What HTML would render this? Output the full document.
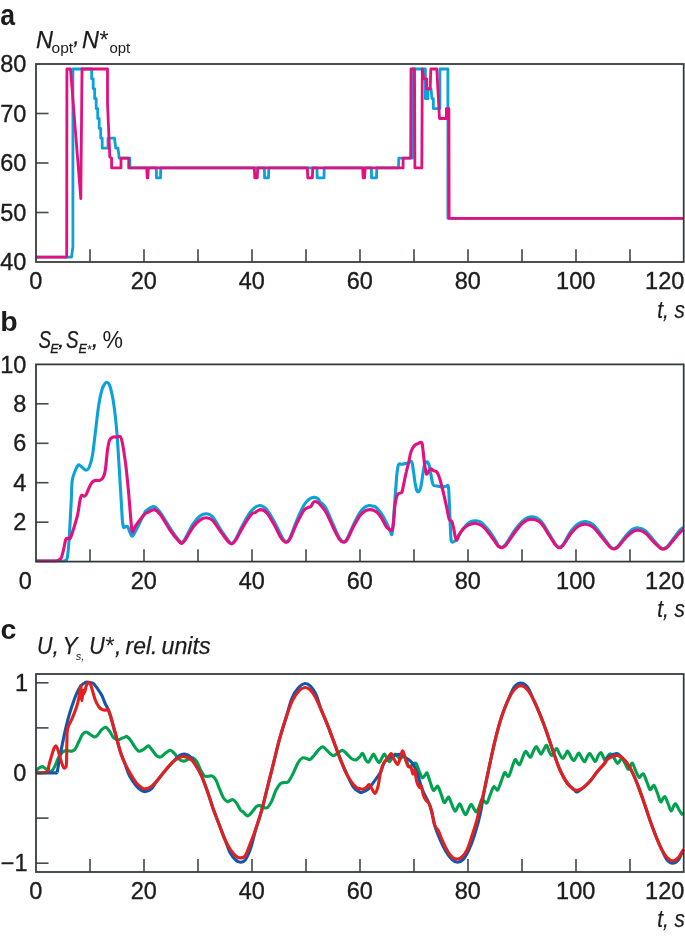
<!DOCTYPE html>
<html lang="en">
<head>
<meta charset="utf-8">
<title>Figure: optimisation results</title>
<style>
html, body { margin:0; padding:0; background:#ffffff; }
body { width:685px; height:938px; overflow:hidden; }
svg { display:block; font-family:"Liberation Sans", Arial, Helvetica, sans-serif; }
</style>
</head>
<body>
<svg width="685" height="938" viewBox="0 0 685 938">
<rect x="0" y="0" width="685" height="938" fill="#ffffff"/>
<path d="M36.0,257.1 L71.5,257.1 L72.9,247.0 L72.9,69.0 L91.7,69.0 L91.7,78.8 L93.2,78.8 L93.2,88.8 L94.7,88.8 L94.7,98.7 L96.2,98.7 L96.2,108.6 L97.7,108.6 L97.7,118.5 L99.2,118.5 L99.2,128.4 L100.7,128.4 L100.7,138.2 L102.2,138.2 L102.2,148.2 L103.7,148.2 L108.0,148.2 L108.0,138.2 L114.5,138.2 L115.7,148.2 L118.0,148.2 L119.2,158.1 L129.8,158.1 L129.8,167.9 L156.3,167.9 L156.5,177.9 L160.5,177.9 L160.8,167.9 L264.3,167.9 L264.6,177.9 L268.5,177.9 L268.8,167.9 L317.0,167.9 L317.2,177.9 L324.0,177.9 L324.2,167.9 L371.4,167.9 L371.6,177.9 L376.5,177.9 L376.8,167.9 L398.5,167.9 L398.8,158.1 L412.5,158.1 L413.0,69.0 L425.4,69.0 L425.4,98.7 L428.0,98.7 L428.0,88.8 L431.0,88.8 L432.0,98.7 L433.3,98.7 L433.3,108.6 L439.9,108.6 L439.9,69.0 L447.9,69.0 L447.9,218.3 L684.0,218.3" fill="none" stroke="#0ba2d9" stroke-width="2.8" stroke-linejoin="round" stroke-linecap="butt"/>
<path d="M36.0,257.1 L66.7,257.1 L66.9,69.0 L70.5,69.0 L80.8,198.6 L82.0,69.0 L107.5,69.0 L107.5,103.0 L109.8,157.0 L111.6,158.1 L111.6,167.9 L121.0,167.9 L121.0,158.1 L128.7,158.1 L128.7,167.9 L146.7,167.9 L147.2,177.9 L147.8,177.9 L148.3,167.9 L254.3,167.9 L254.8,177.9 L257.2,177.9 L257.7,167.9 L307.3,167.9 L307.8,177.9 L312.3,177.9 L312.8,167.9 L362.6,167.9 L363.2,177.9 L364.6,177.9 L365.2,167.9 L403.1,167.9 L403.1,158.1 L410.7,158.1 L411.0,69.0 L414.5,69.0 L414.9,167.9 L421.8,167.9 L422.3,69.0 L423.6,78.8 L426.7,78.8 L426.7,88.8 L430.2,88.8 L430.8,69.0 L436.8,69.0 L439.0,110.0 L439.5,118.5 L446.4,118.5 L446.4,108.6 L448.9,108.6 L449.1,218.3 L684.0,218.3" fill="none" stroke="#e3107f" stroke-width="2.8" stroke-linejoin="round" stroke-linecap="butt"/>
<line x1="90.0" y1="262.0" x2="90.0" y2="249.3" stroke="#474d50" stroke-width="1.65"/>
<line x1="144.0" y1="262.0" x2="144.0" y2="249.3" stroke="#474d50" stroke-width="1.65"/>
<line x1="198.0" y1="262.0" x2="198.0" y2="249.3" stroke="#474d50" stroke-width="1.65"/>
<line x1="252.0" y1="262.0" x2="252.0" y2="249.3" stroke="#474d50" stroke-width="1.65"/>
<line x1="306.0" y1="262.0" x2="306.0" y2="249.3" stroke="#474d50" stroke-width="1.65"/>
<line x1="360.0" y1="262.0" x2="360.0" y2="249.3" stroke="#474d50" stroke-width="1.65"/>
<line x1="414.0" y1="262.0" x2="414.0" y2="249.3" stroke="#474d50" stroke-width="1.65"/>
<line x1="468.0" y1="262.0" x2="468.0" y2="249.3" stroke="#474d50" stroke-width="1.65"/>
<line x1="522.0" y1="262.0" x2="522.0" y2="249.3" stroke="#474d50" stroke-width="1.65"/>
<line x1="576.0" y1="262.0" x2="576.0" y2="249.3" stroke="#474d50" stroke-width="1.65"/>
<line x1="630.0" y1="262.0" x2="630.0" y2="249.3" stroke="#474d50" stroke-width="1.65"/>
<line x1="36.0" y1="212.5" x2="48.5" y2="212.5" stroke="#474d50" stroke-width="1.65"/>
<line x1="36.0" y1="163.0" x2="48.5" y2="163.0" stroke="#474d50" stroke-width="1.65"/>
<line x1="36.0" y1="113.5" x2="48.5" y2="113.5" stroke="#474d50" stroke-width="1.65"/>
<rect x="36.0" y="64.0" width="647.7" height="198.0" fill="none" stroke="#32383a" stroke-width="1.75"/>
<text x="26.4" y="72.2" text-anchor="end" style="font-size:23.5px;" fill="#1c1c1c" stroke="#1c1c1c" stroke-width="0.35">80</text>
<text x="26.4" y="121.7" text-anchor="end" style="font-size:23.5px;" fill="#1c1c1c" stroke="#1c1c1c" stroke-width="0.35">70</text>
<text x="26.4" y="171.2" text-anchor="end" style="font-size:23.5px;" fill="#1c1c1c" stroke="#1c1c1c" stroke-width="0.35">60</text>
<text x="26.4" y="220.7" text-anchor="end" style="font-size:23.5px;" fill="#1c1c1c" stroke="#1c1c1c" stroke-width="0.35">50</text>
<text x="26.4" y="270.2" text-anchor="end" style="font-size:23.5px;" fill="#1c1c1c" stroke="#1c1c1c" stroke-width="0.35">40</text>
<text x="35.7" y="289.4" text-anchor="middle" style="font-size:23.5px;" fill="#1c1c1c" stroke="#1c1c1c" stroke-width="0.35">0</text>
<text x="143.7" y="289.4" text-anchor="middle" style="font-size:23.5px;" fill="#1c1c1c" stroke="#1c1c1c" stroke-width="0.35">20</text>
<text x="251.7" y="289.4" text-anchor="middle" style="font-size:23.5px;" fill="#1c1c1c" stroke="#1c1c1c" stroke-width="0.35">40</text>
<text x="359.7" y="289.4" text-anchor="middle" style="font-size:23.5px;" fill="#1c1c1c" stroke="#1c1c1c" stroke-width="0.35">60</text>
<text x="467.7" y="289.4" text-anchor="middle" style="font-size:23.5px;" fill="#1c1c1c" stroke="#1c1c1c" stroke-width="0.35">80</text>
<text x="575.7" y="289.4" text-anchor="middle" style="font-size:23.5px;" fill="#1c1c1c" stroke="#1c1c1c" stroke-width="0.35">100</text>
<text x="684.3" y="289.4" text-anchor="end" style="font-size:23.5px;" fill="#1c1c1c" stroke="#1c1c1c" stroke-width="0.35">120</text>
<text x="684.8" y="318.0" text-anchor="end" textLength="27.6" lengthAdjust="spacingAndGlyphs" style="font-size:23.5px;font-style:italic;" fill="#1c1c1c" stroke="#1c1c1c" stroke-width="0.25">t, s</text>
<text x="0.2" y="24.9" textLength="14.8" lengthAdjust="spacingAndGlyphs" style="font-size:29.5px;font-weight:bold;" fill="#1c1c1c">a</text>
<text x="36" y="47.8" style="font-size:23.5px;font-style:italic;" fill="#1c1c1c" stroke="#1c1c1c" stroke-width="0.25">N</text>
<text x="51.6" y="53" textLength="21.6" lengthAdjust="spacingAndGlyphs" style="font-size:15px;" fill="#1c1c1c">opt</text>
<text x="73.2" y="44" style="font-size:23.5px;font-style:italic;" fill="#1c1c1c" stroke="#1c1c1c" stroke-width="0.25">,</text>
<text x="82" y="47.8" style="font-size:23.5px;font-style:italic;" fill="#1c1c1c" stroke="#1c1c1c" stroke-width="0.25">N</text>
<text x="99.4" y="47.6" style="font-size:23.5px;" fill="#1c1c1c">*</text>
<text x="109.4" y="53" textLength="20.8" lengthAdjust="spacingAndGlyphs" style="font-size:15px;" fill="#1c1c1c">opt</text>
<clipPath id="cb"><rect x="36.0" y="364.4" width="647.7" height="197.80000000000004"/></clipPath>
<path d="M36.0,561.1 C40.3,561.1 57.2,561.2 62.0,561.1 C66.8,561.0 64.1,561.4 65.0,560.8 C65.9,560.2 66.7,560.9 67.3,557.6 C68.0,554.2 68.4,549.7 69.0,540.5 C69.7,531.3 70.6,512.1 71.2,502.1 C71.7,492.2 71.5,486.2 72.2,480.8 C72.9,475.5 74.4,472.8 75.4,470.2 C76.5,467.5 77.6,465.4 78.6,464.8 C79.7,464.3 80.6,466.1 81.8,467.0 C83.1,467.9 84.8,470.2 86.1,470.2 C87.3,470.2 88.2,469.5 89.3,467.0 C90.3,464.5 91.4,461.5 92.5,455.3 C93.5,449.0 94.6,438.2 95.7,429.7 C96.7,421.2 97.8,410.8 98.9,404.1 C99.9,397.4 101.0,392.7 102.1,389.2 C103.1,385.7 104.5,384.4 105.3,383.2 C106.0,382.1 106.0,382.1 106.8,382.4 C107.5,382.6 108.5,382.4 109.5,384.9 C110.5,387.5 111.8,393.1 112.7,397.7 C113.6,402.3 114.1,406.6 114.9,412.6 C115.6,418.7 116.3,425.1 117.0,433.9 C117.7,442.8 118.4,454.5 119.1,465.9 C119.8,477.3 120.6,492.2 121.3,502.1 C121.9,512.1 122.2,521.5 123.0,525.6 C123.7,529.7 124.7,526.5 125.5,526.6 C126.3,526.8 126.9,525.8 127.6,526.6 C128.4,527.5 129.0,530.4 129.8,532.0 C130.6,533.6 131.3,536.6 132.3,536.2 C133.4,535.9 134.8,532.3 136.2,529.8 C137.5,527.4 139.0,524.2 140.4,521.3 C141.9,518.5 143.7,514.6 144.7,512.8 C145.6,511.0 144.6,511.7 146.1,510.7 C147.7,509.6 151.5,506.2 153.9,506.6 C156.3,506.9 157.6,509.0 160.4,512.7 C163.2,516.4 167.6,524.5 170.7,529.0 C173.7,533.6 177.0,538.1 178.8,540.3 C180.7,542.5 180.8,542.7 181.9,542.3 C183.0,542.0 183.5,541.3 185.4,538.2 C187.2,535.2 190.7,527.7 193.1,523.9 C195.6,520.2 198.1,517.5 200.3,515.8 C202.5,514.1 204.4,513.6 206.4,513.7 C208.5,513.9 210.0,513.9 212.6,516.8 C215.1,519.7 219.0,527.0 221.7,531.1 C224.5,535.2 227.2,539.3 228.9,541.3 C230.6,543.4 230.8,543.7 232.0,543.4 C233.1,543.0 233.8,542.5 235.6,539.3 C237.5,536.0 240.6,528.7 243.2,523.9 C245.8,519.2 248.7,513.7 251.4,510.7 C254.1,507.6 257.0,505.7 259.6,505.5 C262.1,505.4 264.2,506.7 266.7,509.6 C269.3,512.5 272.7,519.0 274.9,522.9 C277.1,526.8 278.6,530.4 280.0,533.1 C281.4,535.9 282.2,537.8 283.3,539.3 C284.3,540.7 285.3,541.9 286.3,541.7 C287.4,541.6 288.1,541.7 289.8,538.2 C291.5,534.8 294.3,526.3 296.6,520.9 C298.9,515.4 301.7,509.1 303.7,505.5 C305.8,502.0 307.1,500.8 308.8,499.4 C310.5,498.1 312.4,497.5 313.9,497.4 C315.5,497.3 317.0,498.0 318.0,498.8 C319.0,499.6 319.4,501.3 320.1,502.1 C320.8,502.9 321.1,502.4 322.1,503.5 C323.1,504.6 324.3,505.0 326.2,508.6 C328.1,512.2 331.1,520.0 333.4,525.0 C335.6,529.9 337.8,535.5 339.5,538.2 C341.2,541.0 342.3,541.7 343.6,541.7 C344.9,541.7 345.6,541.2 347.3,538.2 C349.0,535.3 351.7,528.2 353.8,523.9 C355.9,519.7 358.1,515.5 359.9,512.7 C361.8,509.9 363.5,508.2 365.0,507.0 C366.6,505.8 367.8,505.7 369.1,505.5 C370.5,505.4 372.0,505.8 373.2,506.2 C374.4,506.5 374.9,506.3 376.3,507.6 C377.6,508.9 379.5,510.8 381.4,513.7 C383.3,516.6 386.0,521.9 387.5,525.0 C389.0,528.0 389.8,530.6 390.6,532.1 C391.3,533.7 391.5,535.5 391.9,534.2 C392.3,533.0 392.6,530.3 393.1,524.6 C393.6,518.9 394.3,508.0 394.9,500.1 C395.5,492.2 396.1,483.1 396.6,477.3 C397.2,471.5 397.5,467.2 398.4,465.0 C399.3,462.8 400.4,464.5 401.9,464.2 C403.4,463.9 405.5,463.7 407.2,463.3 C408.8,462.8 410.5,460.4 411.5,461.5 C412.6,462.7 412.7,466.8 413.3,470.3 C413.9,473.8 414.5,479.2 415.0,482.6 C415.6,485.9 416.2,488.9 416.8,490.4 C417.4,492.0 417.9,492.1 418.5,491.7 C419.2,491.2 419.9,490.8 420.6,487.8 C421.4,484.8 422.3,477.7 422.9,473.8 C423.6,469.9 424.0,466.1 424.7,464.2 C425.3,462.2 426.2,461.7 427.0,461.9 C427.7,462.0 428.4,463.1 429.1,465.0 C429.7,467.0 430.2,470.7 430.8,473.8 C431.4,476.9 432.0,481.4 432.6,483.4 C433.1,485.4 433.4,485.3 434.3,485.7 C435.2,486.1 436.5,485.9 437.8,486.1 C439.1,486.3 440.9,486.9 442.2,486.9 C443.5,487.0 444.7,486.5 445.7,486.4 C446.7,486.3 447.7,484.1 448.3,486.4 C448.9,488.7 448.9,494.3 449.2,500.1 C449.5,505.9 449.8,514.7 450.1,521.1 C450.4,527.5 450.6,535.1 451.0,538.6 C451.3,542.1 451.4,541.8 452.2,542.1 C452.9,542.5 454.5,541.2 455.3,540.7 C456.2,540.3 456.2,540.9 457.1,539.5 C458.0,538.1 459.1,534.8 460.6,532.5 C462.0,530.2 464.1,527.3 465.8,525.5 C467.6,523.6 469.5,522.2 471.1,521.5 C472.7,520.7 473.9,520.7 475.5,520.7 C477.1,520.8 478.8,520.7 480.7,522.0 C482.6,523.2 485.0,525.9 486.9,528.1 C488.8,530.3 490.5,532.8 492.1,535.1 C493.7,537.5 495.5,540.4 496.5,542.1 C497.5,543.8 497.2,544.6 498.1,545.5 C499.0,546.3 500.6,547.5 501.9,547.2 C503.2,547.0 504.0,546.7 506.0,544.0 C508.1,541.3 511.4,534.8 514.2,530.9 C517.0,527.0 520.0,523.0 523.0,520.7 C525.9,518.3 528.8,516.9 531.7,516.9 C534.6,516.9 537.6,517.8 540.5,520.7 C543.4,523.5 546.7,529.8 549.2,533.8 C551.8,537.8 554.2,542.7 555.9,544.9 C557.7,547.1 558.2,547.3 559.5,547.2 C560.7,547.1 561.3,547.0 563.2,544.3 C565.2,541.6 568.6,534.3 571.1,530.9 C573.7,527.4 576.0,525.1 578.4,523.6 C580.9,522.0 583.3,521.4 585.7,521.5 C588.2,521.7 590.4,522.2 593.0,524.5 C595.7,526.7 598.9,531.5 601.8,535.3 C604.7,539.0 608.5,544.7 610.5,546.9 C612.6,549.1 613.1,548.5 614.3,548.4 C615.6,548.2 616.3,548.0 618.1,546.1 C619.9,544.1 622.8,539.5 625.1,536.7 C627.5,533.9 630.2,530.9 632.4,529.4 C634.7,528.0 636.7,527.7 638.9,528.0 C641.1,528.2 643.0,528.7 645.6,530.9 C648.2,533.1 651.8,538.3 654.3,541.1 C656.9,543.9 659.2,546.6 660.8,547.8 C662.4,549.0 662.8,548.7 664.0,548.4 C665.1,548.1 666.0,548.0 667.8,546.1 C669.6,544.1 672.6,539.5 674.8,536.7 C676.9,533.9 678.9,531.1 680.6,529.4 C682.3,527.7 684.3,527.0 685.0,526.5" fill="none" stroke="#0ba2d9" stroke-width="3.1" stroke-linejoin="round" stroke-linecap="butt" clip-path="url(#cb)"/>
<path d="M36.0,561.1 C39.0,561.1 50.5,561.2 54.0,561.1 C57.5,561.0 56.0,561.0 57.0,560.7 C58.0,560.4 59.1,559.9 59.9,559.3 C60.6,558.7 60.9,558.8 61.6,557.1 C62.2,555.4 63.0,552.0 63.7,549.0 C64.4,546.1 65.1,541.2 65.8,539.4 C66.5,537.7 67.3,538.5 68.0,538.4 C68.7,538.2 69.2,539.8 70.1,538.4 C71.0,537.0 72.1,533.8 73.3,529.8 C74.5,525.9 76.3,520.4 77.6,514.9 C78.8,509.4 79.7,499.9 80.8,496.8 C81.8,493.7 83.1,496.5 84.0,496.2 C84.8,495.8 85.2,496.2 86.1,494.7 C87.0,493.2 88.2,489.4 89.3,487.2 C90.3,485.1 91.4,483.0 92.5,481.9 C93.5,480.8 94.4,480.6 95.7,480.4 C96.9,480.2 98.7,480.9 99.9,480.4 C101.2,479.9 102.2,479.3 103.1,477.6 C104.0,475.9 104.6,474.6 105.3,470.2 C106.0,465.7 106.7,456.0 107.4,451.0 C108.1,446.0 108.6,442.6 109.5,440.3 C110.4,438.0 111.5,437.7 112.7,437.1 C114.0,436.6 115.7,437.2 117.0,437.1 C118.2,437.0 119.3,435.6 120.2,436.5 C121.1,437.4 121.6,439.3 122.3,442.5 C123.0,445.6 123.7,450.3 124.4,455.3 C125.2,460.2 125.9,465.9 126.6,472.3 C127.3,478.7 128.0,485.8 128.7,493.6 C129.4,501.4 130.2,512.8 130.8,519.2 C131.4,525.6 131.6,530.7 132.3,532.0 C133.0,533.2 133.8,528.8 135.1,526.6 C136.5,524.5 138.8,521.3 140.4,519.2 C142.0,517.1 143.6,515.2 144.7,514.1 C145.8,513.0 145.6,513.4 147.2,512.7 C148.8,512.0 152.1,509.3 154.3,509.6 C156.5,510.0 157.7,511.2 160.4,514.7 C163.2,518.3 167.6,526.7 170.7,531.1 C173.7,535.5 177.0,539.3 178.8,541.3 C180.7,543.4 180.8,543.6 181.9,543.4 C183.0,543.1 183.5,542.4 185.4,539.7 C187.2,537.0 190.7,530.3 193.1,527.0 C195.6,523.7 198.1,521.4 200.3,519.9 C202.5,518.3 204.4,517.7 206.4,517.8 C208.5,517.9 210.0,517.9 212.6,520.5 C215.1,523.0 219.0,529.5 221.7,533.1 C224.5,536.8 227.2,540.6 228.9,542.3 C230.6,544.1 230.8,544.1 232.0,543.8 C233.1,543.4 233.8,543.2 235.6,540.3 C237.5,537.4 240.6,530.9 243.2,526.6 C245.8,522.3 249.3,516.7 251.4,514.3 C253.4,512.0 253.9,513.1 255.5,512.3 C257.0,511.5 258.7,509.6 260.6,509.6 C262.5,509.7 264.3,510.0 266.7,512.7 C269.1,515.4 272.7,522.1 274.9,526.0 C277.1,529.9 278.6,533.8 280.0,536.2 C281.4,538.7 282.2,539.7 283.3,540.7 C284.3,541.7 285.3,542.6 286.3,542.3 C287.4,542.1 288.1,542.3 289.8,539.3 C291.5,536.2 294.3,528.7 296.6,523.9 C298.9,519.2 301.8,513.4 303.7,510.7 C305.6,507.9 306.6,508.3 307.8,507.6 C309.0,506.9 310.0,507.4 310.9,506.6 C311.7,505.8 312.2,503.7 312.9,502.9 C313.6,502.0 313.9,501.4 315.0,501.5 C316.0,501.6 317.2,501.6 319.0,503.5 C320.9,505.4 323.8,508.6 326.2,512.7 C328.6,516.8 331.1,523.6 333.4,528.0 C335.6,532.5 337.8,536.9 339.5,539.3 C341.2,541.7 342.3,542.3 343.6,542.3 C344.9,542.3 345.6,542.0 347.3,539.3 C349.0,536.5 351.7,529.9 353.8,526.0 C355.9,522.1 358.1,518.3 359.9,515.8 C361.8,513.3 363.3,512.1 365.0,511.1 C366.7,510.0 368.3,509.5 370.1,509.6 C372.0,509.7 374.4,510.3 376.3,511.7 C378.1,513.0 379.7,515.3 381.4,517.8 C383.1,520.4 385.0,525.0 386.5,527.0 C388.0,529.0 389.6,529.7 390.6,530.1 C391.6,530.4 392.1,530.9 392.6,529.0 C393.2,527.2 393.4,522.9 393.9,518.8 C394.3,514.7 394.4,508.6 395.1,504.5 C395.7,500.4 396.6,496.3 397.7,494.3 C398.9,492.3 400.9,493.6 401.8,492.3 C402.7,490.9 402.5,489.5 403.3,486.1 C404.0,482.8 405.3,476.1 406.3,472.0 C407.2,467.9 408.2,464.7 408.9,461.5 C409.6,458.3 409.8,455.4 410.7,452.8 C411.5,450.1 413.0,447.3 414.2,445.8 C415.3,444.2 416.4,444.2 417.7,443.7 C418.9,443.1 420.8,441.7 421.7,442.6 C422.6,443.5 422.4,445.5 422.9,449.3 C423.4,453.0 424.1,461.0 424.7,465.0 C425.3,469.1 425.8,472.6 426.4,473.8 C427.0,475.0 427.4,472.9 428.2,472.0 C428.9,471.2 429.9,469.1 430.8,468.9 C431.7,468.7 432.4,470.1 433.4,470.6 C434.5,471.2 435.9,470.8 436.9,472.0 C438.0,473.3 438.5,475.0 439.6,478.2 C440.6,481.4 441.9,486.5 443.1,491.3 C444.2,496.1 445.6,502.4 446.6,507.1 C447.6,511.8 448.3,517.0 449.2,519.3 C450.1,521.7 451.1,520.0 451.8,521.5 C452.6,522.9 453.0,525.5 453.6,528.1 C454.2,530.7 454.8,534.9 455.3,536.9 C455.9,538.9 456.2,540.3 456.7,540.0 C457.3,539.7 457.8,537.0 458.8,535.1 C459.9,533.3 461.8,530.6 463.2,529.0 C464.7,527.4 466.0,526.4 467.6,525.5 C469.2,524.6 471.4,524.1 472.9,523.7 C474.3,523.4 474.9,523.1 476.4,523.4 C477.8,523.7 479.9,524.3 481.6,525.5 C483.4,526.7 485.1,528.7 486.9,530.7 C488.6,532.8 490.5,535.6 492.1,537.7 C493.7,539.9 495.5,542.5 496.5,543.9 C497.5,545.3 497.2,545.4 498.1,546.1 C499.0,546.7 500.6,548.0 501.9,547.8 C503.2,547.6 504.0,547.3 506.0,544.9 C508.1,542.5 511.4,536.9 514.2,533.2 C517.0,529.5 520.1,525.0 523.0,522.7 C525.8,520.4 528.2,519.2 531.1,519.2 C534.1,519.2 537.5,520.0 540.5,522.7 C543.5,525.4 546.7,531.8 549.2,535.5 C551.8,539.3 554.2,543.4 555.9,545.5 C557.7,547.5 558.2,547.9 559.5,547.8 C560.7,547.8 561.3,547.6 563.2,545.2 C565.2,542.7 568.6,536.4 571.1,533.2 C573.7,530.0 576.0,527.7 578.4,526.2 C580.9,524.7 583.3,524.0 585.7,524.2 C588.2,524.3 590.4,524.9 593.0,527.1 C595.7,529.3 598.9,533.9 601.8,537.3 C604.7,540.7 608.5,545.6 610.5,547.5 C612.6,549.5 613.1,549.1 614.3,549.0 C615.6,548.9 616.3,548.7 618.1,546.9 C619.9,545.2 622.8,541.0 625.1,538.5 C627.5,535.9 630.2,533.1 632.4,531.8 C634.7,530.4 636.7,530.0 638.9,530.3 C641.1,530.5 643.0,531.2 645.6,533.2 C648.2,535.3 651.8,540.0 654.3,542.6 C656.9,545.1 659.2,547.3 660.8,548.4 C662.4,549.5 662.8,549.2 664.0,549.0 C665.1,548.7 666.0,548.7 667.8,546.9 C669.6,545.2 672.6,541.0 674.8,538.5 C676.9,535.9 678.9,533.4 680.6,531.8 C682.3,530.1 684.3,529.1 685.0,528.5" fill="none" stroke="#e3107f" stroke-width="3.1" stroke-linejoin="round" stroke-linecap="butt" clip-path="url(#cb)"/>
<line x1="90.0" y1="561.6" x2="90.0" y2="549.2" stroke="#474d50" stroke-width="1.65"/>
<line x1="144.0" y1="561.6" x2="144.0" y2="549.2" stroke="#474d50" stroke-width="1.65"/>
<line x1="198.0" y1="561.6" x2="198.0" y2="549.2" stroke="#474d50" stroke-width="1.65"/>
<line x1="252.0" y1="561.6" x2="252.0" y2="549.2" stroke="#474d50" stroke-width="1.65"/>
<line x1="306.0" y1="561.6" x2="306.0" y2="549.2" stroke="#474d50" stroke-width="1.65"/>
<line x1="360.0" y1="561.6" x2="360.0" y2="549.2" stroke="#474d50" stroke-width="1.65"/>
<line x1="414.0" y1="561.6" x2="414.0" y2="549.2" stroke="#474d50" stroke-width="1.65"/>
<line x1="468.0" y1="561.6" x2="468.0" y2="549.2" stroke="#474d50" stroke-width="1.65"/>
<line x1="522.0" y1="561.6" x2="522.0" y2="549.2" stroke="#474d50" stroke-width="1.65"/>
<line x1="576.0" y1="561.6" x2="576.0" y2="549.2" stroke="#474d50" stroke-width="1.65"/>
<line x1="630.0" y1="561.6" x2="630.0" y2="549.2" stroke="#474d50" stroke-width="1.65"/>
<line x1="36.0" y1="522.2" x2="48.5" y2="522.2" stroke="#474d50" stroke-width="1.65"/>
<line x1="36.0" y1="482.7" x2="48.5" y2="482.7" stroke="#474d50" stroke-width="1.65"/>
<line x1="36.0" y1="443.3" x2="48.5" y2="443.3" stroke="#474d50" stroke-width="1.65"/>
<line x1="36.0" y1="403.8" x2="48.5" y2="403.8" stroke="#474d50" stroke-width="1.65"/>
<rect x="36.0" y="364.4" width="647.7" height="197.20000000000005" fill="none" stroke="#32383a" stroke-width="1.75"/>
<text x="26.4" y="372.59999999999997" text-anchor="end" style="font-size:23.5px;" fill="#1c1c1c" stroke="#1c1c1c" stroke-width="0.35">10</text>
<text x="26.4" y="412.04" text-anchor="end" style="font-size:23.5px;" fill="#1c1c1c" stroke="#1c1c1c" stroke-width="0.35">8</text>
<text x="26.4" y="451.48" text-anchor="end" style="font-size:23.5px;" fill="#1c1c1c" stroke="#1c1c1c" stroke-width="0.35">6</text>
<text x="26.4" y="490.92" text-anchor="end" style="font-size:23.5px;" fill="#1c1c1c" stroke="#1c1c1c" stroke-width="0.35">4</text>
<text x="26.4" y="530.3600000000001" text-anchor="end" style="font-size:23.5px;" fill="#1c1c1c" stroke="#1c1c1c" stroke-width="0.35">2</text>
<text x="25.4" y="589.0" text-anchor="middle" style="font-size:23.5px;" fill="#1c1c1c" stroke="#1c1c1c" stroke-width="0.35">0</text>
<text x="143.7" y="589.0" text-anchor="middle" style="font-size:23.5px;" fill="#1c1c1c" stroke="#1c1c1c" stroke-width="0.35">20</text>
<text x="251.7" y="589.0" text-anchor="middle" style="font-size:23.5px;" fill="#1c1c1c" stroke="#1c1c1c" stroke-width="0.35">40</text>
<text x="359.7" y="589.0" text-anchor="middle" style="font-size:23.5px;" fill="#1c1c1c" stroke="#1c1c1c" stroke-width="0.35">60</text>
<text x="467.7" y="589.0" text-anchor="middle" style="font-size:23.5px;" fill="#1c1c1c" stroke="#1c1c1c" stroke-width="0.35">80</text>
<text x="575.7" y="589.0" text-anchor="middle" style="font-size:23.5px;" fill="#1c1c1c" stroke="#1c1c1c" stroke-width="0.35">100</text>
<text x="684.3" y="589.0" text-anchor="end" style="font-size:23.5px;" fill="#1c1c1c" stroke="#1c1c1c" stroke-width="0.35">120</text>
<text x="684.8" y="617.0" text-anchor="end" textLength="27.6" lengthAdjust="spacingAndGlyphs" style="font-size:23.5px;font-style:italic;" fill="#1c1c1c" stroke="#1c1c1c" stroke-width="0.25">t, s</text>
<text x="0.3" y="330.7" style="font-size:28.5px;font-weight:bold;" fill="#1c1c1c">b</text>
<text x="38.6" y="347.5" textLength="12.6" lengthAdjust="spacingAndGlyphs" style="font-size:23.5px;font-style:italic;" fill="#1c1c1c" stroke="#1c1c1c" stroke-width="0.25">S</text>
<text x="50.3" y="352.5" style="font-size:12.6px;font-style:italic;" fill="#1c1c1c" stroke="#1c1c1c" stroke-width="0.3">E</text>
<text x="58.2" y="346.6" textLength="5.6" lengthAdjust="spacingAndGlyphs" style="font-size:15px;font-style:italic;font-weight:bold;" fill="#1c1c1c">,</text>
<text x="66" y="347.5" textLength="12.6" lengthAdjust="spacingAndGlyphs" style="font-size:23.5px;font-style:italic;" fill="#1c1c1c" stroke="#1c1c1c" stroke-width="0.25">S</text>
<text x="78.4" y="352.5" style="font-size:12.6px;font-style:italic;" fill="#1c1c1c" stroke="#1c1c1c" stroke-width="0.3">E</text>
<text x="86.4" y="353.6" style="font-size:13px;font-style:italic;" fill="#1c1c1c">*</text>
<text x="92.2" y="347.4" style="font-size:19px;font-style:italic;font-weight:bold;" fill="#1c1c1c">,</text>
<text x="102.4" y="347.5" textLength="20.5" lengthAdjust="spacingAndGlyphs" style="font-size:23.5px;" fill="#1c1c1c">%</text>
<path d="M35.8,770.7 C36.3,770.3 37.7,768.8 38.8,768.1 C39.9,767.4 41.3,766.6 42.4,766.6 C43.5,766.7 44.2,767.8 45.3,768.5 C46.4,769.3 47.9,770.7 49.0,771.0 C50.1,771.4 50.9,771.5 51.9,770.7 C52.9,770.0 53.7,768.5 54.8,766.4 C55.9,764.2 57.3,759.9 58.5,757.6 C59.7,755.3 60.9,753.6 62.1,752.5 C63.3,751.3 64.5,750.8 65.8,750.6 C67.0,750.3 68.3,750.9 69.4,751.0 C70.5,751.1 71.4,751.4 72.3,751.0 C73.3,750.7 74.2,750.4 75.3,748.8 C76.4,747.3 77.7,744.0 78.9,741.5 C80.1,739.1 81.3,735.8 82.6,734.2 C83.8,732.7 85.0,732.0 86.2,732.0 C87.4,732.0 88.5,733.4 89.9,734.2 C91.2,735.0 93.0,736.6 94.2,736.9 C95.5,737.1 95.9,736.9 97.2,735.7 C98.4,734.5 100.1,731.3 101.5,729.9 C103.0,728.4 104.6,727.0 105.9,727.2 C107.3,727.5 108.3,729.7 109.6,731.3 C110.8,733.0 111.9,735.7 113.2,737.2 C114.5,738.6 116.3,739.8 117.6,740.1 C118.9,740.3 119.9,739.1 121.2,738.6 C122.6,738.1 124.7,737.2 125.6,736.9 C126.5,736.5 125.8,735.9 126.6,736.4 C127.4,736.9 129.0,738.0 130.4,739.9 C131.9,741.7 133.8,745.5 135.2,747.4 C136.6,749.3 137.6,750.9 139.0,751.2 C140.4,751.6 142.1,750.2 143.7,749.3 C145.3,748.5 147.0,745.8 148.5,745.9 C149.9,746.1 150.8,748.6 152.3,750.3 C153.7,752.0 155.6,754.9 157.0,756.0 C158.4,757.1 159.4,757.4 160.8,756.9 C162.2,756.5 164.0,754.2 165.5,753.1 C167.1,752.0 168.9,750.3 170.3,750.3 C171.7,750.3 172.7,751.7 174.1,753.1 C175.5,754.6 177.3,757.5 178.8,758.8 C180.4,760.2 182.0,761.0 183.6,761.1 C185.2,761.2 186.7,759.8 188.3,759.2 C189.9,758.7 191.6,757.5 193.1,757.9 C194.5,758.3 195.6,759.6 196.9,761.7 C198.1,763.7 199.4,767.8 200.7,770.2 C201.9,772.6 203.2,774.9 204.5,775.9 C205.7,776.9 207.0,776.3 208.3,776.3 C209.5,776.3 210.8,775.3 212.0,775.9 C213.3,776.5 214.6,777.5 215.8,779.7 C217.1,781.9 218.4,786.2 219.6,789.2 C220.9,792.2 222.2,795.7 223.4,797.7 C224.7,799.8 226.1,801.1 227.2,801.5 C228.3,802.0 229.1,800.9 230.1,800.6 C231.0,800.3 231.8,799.2 232.9,799.6 C234.0,800.1 235.5,801.7 236.7,803.4 C238.0,805.2 239.4,808.6 240.5,810.1 C241.6,811.5 242.1,811.0 243.3,812.0 C244.5,813.0 246.2,815.9 247.6,815.9 C249.1,815.9 250.6,813.6 252.0,812.0 C253.5,810.4 255.1,807.6 256.4,806.6 C257.7,805.5 258.6,805.4 259.7,805.5 C260.8,805.6 261.7,806.8 262.9,807.2 C264.2,807.6 265.9,808.7 267.3,807.6 C268.8,806.6 270.2,804.0 271.7,801.1 C273.1,798.2 274.6,793.1 276.0,790.2 C277.5,787.3 279.0,784.9 280.4,783.6 C281.9,782.3 283.5,782.8 284.8,782.5 C286.1,782.2 286.8,783.1 288.1,781.9 C289.3,780.6 290.8,778.0 292.4,774.9 C294.1,771.7 296.3,765.7 297.9,762.9 C299.5,760.1 300.8,758.8 302.3,758.0 C303.7,757.3 305.4,758.2 306.6,758.5 C307.9,758.7 308.6,760.1 309.9,759.6 C311.2,759.0 312.8,756.8 314.3,755.2 C315.7,753.6 317.3,751.1 318.7,749.7 C320.0,748.4 321.3,746.9 322.6,746.9 C323.9,746.9 325.0,748.5 326.3,749.7 C327.6,750.9 329.4,753.1 330.7,754.1 C331.9,755.1 332.7,755.9 333.9,755.6 C335.2,755.4 336.9,753.5 338.3,752.6 C339.8,751.7 341.2,750.1 342.7,750.4 C344.1,750.7 345.6,752.8 347.1,754.1 C348.5,755.5 350.0,757.5 351.4,758.5 C352.9,759.5 354.3,760.4 355.8,760.0 C357.3,759.7 359.0,757.4 360.2,756.3 C361.3,755.2 361.9,752.9 362.8,753.5 C363.7,754.0 364.7,758.1 365.6,759.6 C366.5,761.0 367.4,762.5 368.3,762.3 C369.2,762.0 370.2,759.2 371.1,757.9 C372.0,756.5 372.7,753.9 373.6,754.1 C374.5,754.2 375.3,757.4 376.3,758.8 C377.2,760.3 378.2,762.8 379.1,762.6 C380.1,762.5 381.1,759.3 382.0,757.9 C382.8,756.5 383.5,753.9 384.4,754.1 C385.3,754.2 386.4,757.6 387.3,758.8 C388.1,760.1 388.8,762.0 389.7,761.7 C390.6,761.4 391.7,758.2 392.6,756.9 C393.5,755.7 394.3,754.1 395.2,754.1 C396.2,754.1 397.2,756.1 398.1,756.9 C399.0,757.7 399.6,759.2 400.5,758.8 C401.5,758.5 403.0,754.7 404.0,755.0 C404.9,755.4 405.4,758.8 406.2,760.7 C407.1,762.6 408.0,765.8 409.1,766.4 C410.2,767.1 411.7,765.0 412.9,764.5 C414.1,764.1 415.0,762.3 416.1,763.6 C417.2,764.8 418.5,769.7 419.5,772.1 C420.6,774.5 421.4,777.3 422.4,777.8 C423.3,778.3 424.4,775.8 425.2,775.0 C426.0,774.2 426.3,772.0 427.1,773.1 C427.9,774.2 429.0,778.8 430.0,781.6 C431.0,784.5 432.2,789.0 433.2,790.1 C434.1,791.3 434.9,788.9 435.7,788.3 C436.5,787.6 437.0,785.2 437.9,786.4 C438.9,787.5 440.3,792.2 441.4,794.9 C442.4,797.6 443.3,801.8 444.2,802.5 C445.1,803.2 446.3,800.0 447.0,799.1 C447.8,798.2 448.2,796.3 448.9,797.2 C449.7,798.1 450.8,802.1 451.8,804.4 C452.8,806.7 454.1,810.6 455.0,811.0 C456.0,811.5 456.7,808.4 457.5,807.2 C458.3,806.1 459.1,803.5 460.0,804.0 C460.8,804.5 461.9,808.3 462.8,810.1 C463.7,811.9 464.7,815.0 465.6,814.8 C466.6,814.7 467.6,810.9 468.5,809.1 C469.4,807.4 470.3,804.5 471.2,804.4 C472.0,804.2 472.7,806.9 473.6,808.2 C474.5,809.4 475.5,812.3 476.5,812.0 C477.4,811.7 478.4,808.3 479.3,806.3 C480.2,804.2 481.0,800.5 481.8,799.6 C482.6,798.8 483.3,800.6 484.2,801.1 C485.0,801.6 486.0,803.9 487.0,802.8 C488.0,801.7 489.2,797.2 490.3,794.5 C491.4,791.9 492.6,787.8 493.6,786.9 C494.6,786.0 495.5,788.6 496.2,789.1 C496.9,789.5 497.1,791.0 497.9,789.7 C498.8,788.5 500.1,784.3 501.2,781.4 C502.3,778.6 503.6,773.8 504.5,772.7 C505.4,771.6 506.0,774.3 506.7,774.9 C507.4,775.4 508.0,777.2 508.9,776.0 C509.8,774.7 511.1,770.0 512.1,767.2 C513.2,764.5 514.1,760.3 515.0,759.6 C515.9,758.9 516.8,762.1 517.6,762.9 C518.4,763.7 518.9,765.5 519.8,764.4 C520.7,763.3 522.1,758.5 523.1,756.3 C524.0,754.1 524.8,751.5 525.7,751.3 C526.6,751.1 527.7,754.3 528.5,755.2 C529.4,756.2 529.9,757.7 530.7,757.0 C531.6,756.2 532.6,752.6 533.6,750.8 C534.5,749.1 535.3,746.5 536.2,746.5 C537.0,746.5 538.0,749.6 538.8,750.8 C539.6,752.1 540.3,754.5 541.2,754.1 C542.1,753.8 543.3,750.1 544.3,748.7 C545.2,747.2 545.8,744.8 546.7,745.4 C547.5,745.9 548.4,750.2 549.3,751.9 C550.2,753.6 551.0,755.8 551.9,755.6 C552.8,755.5 553.9,752.0 554.7,750.8 C555.6,749.7 556.0,747.9 556.9,748.7 C557.8,749.4 559.2,753.6 560.2,755.2 C561.2,756.8 561.9,758.7 562.8,758.5 C563.7,758.3 564.8,755.3 565.7,754.1 C566.5,752.9 566.9,750.7 567.9,751.3 C568.8,751.8 570.1,755.8 571.1,757.4 C572.1,759.0 572.8,760.9 573.8,760.7 C574.7,760.5 575.8,757.6 576.6,756.3 C577.4,755.0 577.9,752.7 578.8,753.0 C579.7,753.4 581.1,757.0 582.1,758.5 C583.0,759.9 583.8,762.1 584.7,761.8 C585.6,761.4 586.7,757.7 587.5,756.3 C588.4,754.9 588.8,753.1 589.7,753.5 C590.6,753.8 592.0,757.2 593.0,758.5 C594.0,759.8 594.7,761.9 595.6,761.3 C596.5,760.8 597.5,756.7 598.4,755.2 C599.4,753.8 600.2,752.2 601.1,752.6 C601.9,753.0 602.8,756.1 603.5,757.4 C604.1,758.7 604.5,760.7 605.1,760.6 C605.8,760.6 606.5,758.1 607.4,756.9 C608.2,755.8 609.1,753.6 610.2,753.7 C611.3,753.9 612.7,756.2 613.9,757.8 C615.2,759.5 616.6,763.1 617.6,763.4 C618.7,763.7 619.7,760.5 620.4,759.7 C621.2,758.9 621.5,758.1 622.3,758.8 C623.1,759.4 624.1,761.7 625.1,763.4 C626.1,765.2 627.4,769.1 628.3,769.4 C629.2,769.7 630.0,766.3 630.7,765.3 C631.4,764.3 631.7,762.5 632.6,763.4 C633.4,764.4 634.7,768.6 635.7,770.9 C636.8,773.2 638.1,776.8 639.1,777.4 C640.1,778.0 641.1,775.2 641.9,774.6 C642.7,774.1 642.9,773.0 643.8,774.3 C644.6,775.5 645.9,779.5 646.9,782.1 C648.0,784.6 649.0,788.8 649.9,789.6 C650.9,790.3 651.8,787.4 652.5,786.8 C653.3,786.1 653.5,784.6 654.4,785.8 C655.3,787.1 656.7,791.6 657.8,794.2 C658.8,796.9 659.6,801.1 660.6,801.7 C661.5,802.3 662.6,798.7 663.4,797.9 C664.1,797.2 664.4,795.9 665.2,797.0 C666.1,798.1 667.4,802.1 668.4,804.5 C669.4,806.8 670.3,810.9 671.2,811.0 C672.1,811.2 673.2,806.6 674.0,805.4 C674.8,804.3 675.2,803.3 676.0,804.1 C676.9,804.9 678.2,808.4 679.2,810.1 C680.2,811.8 681.3,813.7 682.0,814.2 C682.7,814.6 683.3,813.1 683.5,812.9" fill="none" stroke="#00a14f" stroke-width="3.1" stroke-linejoin="round" stroke-linecap="butt"/>
<path d="M36.0,772.9 L56.9,772.9 L57.2,772.5" fill="none" stroke="#1556ab" stroke-width="3.1" stroke-linejoin="round" stroke-linecap="butt"/>
<path d="M57.2,772.5 C57.5,770.5 58.5,764.5 59.2,760.5 C59.9,756.6 60.4,753.7 61.4,748.8 C62.4,744.0 63.8,736.7 65.0,731.3 C66.3,726.0 67.5,721.1 68.7,716.7 C69.9,712.3 71.0,708.9 72.3,705.0 C73.7,701.1 75.3,696.5 76.7,693.4 C78.1,690.2 79.3,687.9 80.8,686.1 C82.3,684.3 84.2,683.0 85.5,682.4 C86.8,681.8 87.4,682.2 88.6,682.4 C89.9,682.5 91.4,682.2 92.8,683.1 C94.2,684.1 95.7,686.3 97.2,688.2 C98.6,690.2 100.2,692.3 101.5,694.8 C102.9,697.4 104.1,701.1 105.2,703.6 C106.3,706.0 107.0,706.7 108.1,709.4 C109.2,712.1 110.4,715.8 111.6,719.7 C112.8,723.6 113.9,728.1 115.2,733.0 C116.6,737.9 118.0,744.0 119.6,749.1 C121.2,754.1 123.2,759.0 124.9,763.4 C126.5,767.9 127.6,772.2 129.5,775.9 C131.4,779.6 134.1,783.3 136.1,785.8 C138.2,788.3 140.2,789.8 141.8,790.7 C143.4,791.7 144.0,791.8 145.6,791.5 C147.2,791.2 149.4,790.6 151.3,788.8 C153.2,787.0 154.7,783.8 157.0,780.8 C159.3,777.8 162.3,774.0 165.1,770.8 C167.8,767.6 171.0,764.0 173.4,761.4 C175.9,758.9 177.9,756.6 179.8,755.4 C181.6,754.2 182.8,753.9 184.5,754.1 C186.3,754.3 188.5,754.9 190.2,756.6 C192.0,758.2 193.2,761.1 195.0,764.2 C196.9,767.3 199.2,770.7 201.2,775.1 C203.3,779.6 205.2,785.2 207.2,790.8 C209.2,796.3 211.1,802.8 213.1,808.5 C215.1,814.2 217.2,819.6 219.3,825.0 C221.4,830.4 223.7,836.2 225.5,840.9 C227.3,845.5 228.4,849.6 230.1,852.8 C231.8,856.0 234.0,858.4 235.8,860.0 C237.5,861.6 238.9,862.3 240.5,862.3 C242.1,862.2 243.5,862.3 245.3,859.8 C247.0,857.3 249.2,852.5 250.9,847.4 C252.7,842.3 254.0,835.2 255.8,829.0 C257.6,822.9 259.7,817.4 261.6,810.7 C263.5,804.0 265.2,796.3 267.1,788.9 C268.9,781.5 270.7,774.3 272.8,766.0 C274.9,757.8 277.2,747.6 279.4,739.5 C281.7,731.4 284.1,724.1 286.2,717.2 C288.3,710.3 289.9,702.9 292.0,698.0 C294.1,693.0 296.4,689.9 298.6,687.5 C300.7,685.1 302.9,683.8 304.9,683.5 C306.9,683.3 308.5,684.3 310.4,686.2 C312.2,688.0 314.2,690.5 316.0,694.5 C317.9,698.5 319.5,705.4 321.4,710.3 C323.2,715.2 325.0,718.6 327.1,723.9 C329.2,729.2 331.6,735.8 333.9,741.9 C336.1,747.9 338.4,754.3 340.7,760.1 C343.1,765.9 345.7,771.9 347.9,776.4 C350.0,780.9 351.7,784.8 353.6,787.3 C355.5,789.9 357.7,790.9 359.1,791.7 C360.5,792.5 360.4,792.8 361.9,792.4 C363.4,791.9 366.3,791.0 368.3,789.2 C370.3,787.4 371.9,784.4 374.0,781.6 C376.0,778.8 378.8,775.6 380.6,772.3 C382.3,769.0 382.7,764.5 384.5,762.0 C386.2,759.4 389.0,758.2 391.1,756.9 C393.1,755.7 395.1,755.0 396.8,754.7 C398.5,754.3 399.9,754.2 401.2,754.7 C402.6,755.1 403.1,756.0 404.8,757.3 C406.6,758.6 409.8,759.8 411.9,762.6 C414.1,765.4 415.9,769.6 417.6,774.0 C419.3,778.5 420.1,784.1 422.2,789.4 C424.2,794.7 428.0,799.9 430.0,805.9 C432.1,811.9 433.0,819.5 434.7,825.3 C436.4,831.0 438.5,836.0 440.4,840.4 C442.3,844.9 444.2,848.7 446.1,851.8 C448.0,855.0 449.9,857.7 451.8,859.4 C453.7,861.2 455.6,862.3 457.5,862.3 C459.4,862.3 461.3,861.5 463.2,859.4 C465.1,857.4 467.0,854.0 468.9,849.9 C470.8,845.8 472.7,840.8 474.6,834.8 C476.5,828.7 478.6,821.5 480.3,813.9 C481.9,806.3 482.9,797.7 484.6,789.0 C486.3,780.3 488.4,770.5 490.3,761.8 C492.2,753.0 494.1,744.2 496.0,736.7 C497.9,729.2 499.6,722.8 501.7,716.5 C503.8,710.2 506.5,703.7 508.6,698.8 C510.7,693.9 512.3,689.7 514.3,687.0 C516.4,684.4 518.7,683.1 520.9,683.1 C523.1,683.1 525.4,684.4 527.4,687.0 C529.5,689.7 531.0,694.2 533.1,698.8 C535.2,703.5 537.9,709.3 540.2,714.9 C542.5,720.6 544.7,726.6 547.0,733.0 C549.2,739.3 551.4,746.7 553.7,753.0 C555.9,759.4 558.1,766.0 560.5,771.0 C562.8,776.1 565.2,780.4 567.5,783.5 C569.8,786.6 572.5,788.2 574.1,789.6 C575.7,791.0 575.7,792.3 577.3,791.9 C578.8,791.5 581.4,789.2 583.5,787.4 C585.7,785.6 587.8,783.7 590.0,781.2 C592.3,778.7 594.5,775.2 596.8,772.3 C599.2,769.4 602.5,766.2 604.2,763.8 C606.0,761.3 605.9,759.0 607.4,757.5 C608.8,755.9 611.3,755.1 613.0,754.5 C614.7,753.9 616.2,753.3 617.6,753.7 C619.1,754.2 619.9,755.6 621.5,757.2 C623.1,758.8 625.4,760.7 627.3,763.5 C629.2,766.3 631.2,769.8 633.1,773.9 C635.1,778.0 637.0,783.0 638.9,788.1 C640.8,793.2 642.8,798.9 644.7,804.5 C646.6,810.1 648.5,816.1 650.4,821.6 C652.4,827.1 654.4,832.6 656.4,837.5 C658.4,842.3 660.5,846.9 662.3,850.7 C664.1,854.5 665.4,858.0 667.1,860.1 C668.8,862.2 670.8,863.2 672.7,863.2 C674.6,863.2 676.6,862.2 678.3,860.1 C680.0,858.0 682.0,852.2 682.7,850.7" fill="none" stroke="#1556ab" stroke-width="3.1" stroke-linejoin="round" stroke-linecap="butt"/>
<path d="M35.8,772.9 C37.7,772.8 44.6,773.5 46.8,772.2 C49.0,770.9 48.1,767.8 49.0,764.9 C49.8,762.0 51.0,757.5 51.9,754.7 C52.7,751.9 53.5,749.6 54.1,748.1 C54.7,746.6 55.1,746.0 55.5,745.9 C56.0,745.8 56.5,746.4 57.0,747.4 C57.5,748.3 57.7,749.3 58.5,751.8 C59.2,754.2 60.6,759.4 61.4,762.0 C62.2,764.5 62.8,766.1 63.3,767.1 C63.8,768.1 63.9,768.1 64.3,768.1 C64.7,768.1 65.4,767.9 65.8,767.1 C66.1,766.3 66.3,767.4 66.5,763.4 C66.7,759.4 66.7,748.8 66.9,743.0 C67.1,737.2 66.8,732.5 67.7,728.4 C68.6,724.3 70.8,721.8 72.3,718.2 C73.8,714.5 75.6,709.9 76.7,706.5 C77.8,703.1 78.3,700.7 78.9,697.7 C79.5,694.8 79.9,690.9 80.2,689.0 C80.5,687.0 80.6,685.1 80.8,686.1 C81.0,687.0 81.2,692.4 81.4,694.8 C81.6,697.3 81.6,700.7 81.8,700.7 C82.0,700.7 82.3,696.5 82.6,694.8 C82.8,693.1 83.1,690.6 83.3,690.4 C83.5,690.3 83.4,694.1 83.7,694.1 C84.0,694.1 84.8,691.8 85.2,690.4 C85.6,689.1 85.8,687.3 86.2,686.1 C86.6,684.8 87.2,683.7 87.7,683.1 C88.2,682.5 88.6,682.2 89.1,682.4 C89.6,682.7 90.1,683.5 90.6,684.6 C91.1,685.7 91.3,686.5 92.0,689.0 C92.8,691.4 93.9,696.3 95.0,699.2 C96.1,702.1 97.4,704.7 98.6,706.5 C99.8,708.2 101.0,709.1 102.3,709.7 C103.5,710.3 104.9,710.2 105.9,710.1 C106.9,710.1 107.4,708.6 108.1,709.4 C108.8,710.3 109.3,712.1 110.3,715.3 C111.3,718.4 112.7,724.0 113.9,728.4 C115.2,732.8 116.4,737.2 117.6,741.5 C118.8,745.9 120.0,751.0 121.2,754.7 C122.5,758.3 123.5,760.5 124.9,763.4 C126.3,766.3 127.6,768.9 129.5,772.1 C131.4,775.3 134.1,780.0 136.1,782.6 C138.2,785.2 140.2,786.6 141.8,787.7 C143.4,788.7 144.0,789.0 145.6,788.8 C147.2,788.6 149.3,787.9 151.3,786.4 C153.4,784.8 155.6,782.4 158.0,779.7 C160.3,777.0 163.0,773.2 165.5,770.2 C168.1,767.2 170.8,763.8 173.1,761.7 C175.5,759.5 177.9,758.2 179.8,757.3 C181.7,756.5 182.8,756.3 184.5,756.6 C186.3,756.8 188.3,757.3 190.2,758.8 C192.1,760.3 194.0,762.6 195.9,765.5 C197.8,768.3 199.7,771.6 201.6,775.9 C203.5,780.2 205.4,785.7 207.3,791.1 C209.2,796.5 211.1,802.8 213.0,808.2 C214.9,813.6 216.8,818.3 218.7,823.4 C220.6,828.4 222.5,834.3 224.4,838.5 C226.3,842.8 228.2,846.1 230.1,849.0 C232.0,851.9 234.0,854.5 235.8,856.0 C237.5,857.5 238.9,858.0 240.5,857.9 C242.1,857.8 243.7,857.8 245.3,855.6 C246.8,853.4 248.0,849.5 249.8,844.8 C251.7,840.1 254.4,833.1 256.4,827.3 C258.4,821.5 260.0,816.4 261.8,809.8 C263.7,803.3 265.5,795.3 267.3,788.0 C269.1,780.7 270.8,774.1 272.8,766.1 C274.8,758.1 277.1,747.9 279.3,739.9 C281.5,731.9 283.7,724.6 285.9,718.1 C288.1,711.5 290.3,705.1 292.4,700.6 C294.6,696.0 296.9,692.9 299.0,690.8 C301.1,688.6 303.1,687.7 304.9,687.5 C306.7,687.3 308.2,688.0 309.9,689.7 C311.7,691.3 313.4,693.7 315.4,697.3 C317.4,701.0 319.9,707.0 321.9,711.5 C323.9,716.1 325.4,719.5 327.4,724.6 C329.4,729.7 331.8,736.3 333.9,742.1 C336.1,747.9 338.3,754.1 340.5,759.6 C342.7,765.0 344.9,770.7 347.1,774.9 C349.2,779.1 351.8,782.4 353.6,784.7 C355.4,787.0 357.1,788.0 358.0,788.6 C358.8,789.2 358.0,788.2 358.8,788.3 C359.6,788.3 361.3,789.4 362.6,789.2 C363.9,789.0 365.3,788.1 366.4,787.3 C367.5,786.5 368.3,784.1 369.2,784.5 C370.2,784.8 371.1,787.7 372.1,789.2 C373.0,790.7 374.0,793.7 374.9,793.4 C375.9,793.1 376.8,790.8 377.8,787.3 C378.7,783.8 379.7,776.1 380.6,772.1 C381.6,768.2 382.4,765.8 383.5,763.6 C384.6,761.4 386.0,760.5 387.3,758.8 C388.5,757.2 390.0,753.5 391.1,753.5 C392.2,753.5 392.8,757.0 393.9,758.8 C395.0,760.7 396.6,764.8 397.7,764.5 C398.8,764.2 399.7,759.2 400.5,756.9 C401.4,754.7 402.0,750.5 402.8,750.9 C403.6,751.2 404.4,756.2 405.3,758.8 C406.2,761.4 407.2,765.0 408.1,766.4 C409.1,767.8 410.2,766.1 411.0,767.4 C411.8,768.6 412.3,773.5 412.9,774.0 C413.5,774.5 414.2,769.0 414.8,770.2 C415.4,771.5 415.9,778.8 416.7,781.6 C417.5,784.5 418.7,786.5 419.5,787.3 C420.3,788.1 420.8,785.1 421.4,786.4 C422.1,787.6 422.5,792.5 423.3,794.9 C424.1,797.3 425.2,799.2 426.2,800.6 C427.1,802.0 428.1,801.5 429.0,803.4 C430.0,805.3 430.9,808.3 431.9,812.0 C432.8,815.6 433.6,822.1 434.7,825.3 C435.8,828.4 437.2,828.4 438.5,831.0 C439.8,833.5 440.7,837.0 442.3,840.4 C443.9,843.9 446.3,849.0 448.0,851.8 C449.7,854.7 451.2,856.3 452.7,857.5 C454.3,858.7 455.9,859.2 457.5,859.0 C459.1,858.9 460.6,858.1 462.2,856.6 C463.8,855.1 465.4,853.3 467.0,849.9 C468.6,846.6 470.1,841.4 471.7,836.6 C473.3,831.9 474.9,827.2 476.5,821.5 C478.0,815.8 479.8,808.1 481.2,802.5 C482.6,796.9 483.3,794.8 484.8,788.0 C486.3,781.2 488.5,770.1 490.3,761.8 C492.1,753.4 493.9,745.0 495.8,737.7 C497.6,730.4 499.2,724.3 501.2,718.1 C503.2,711.9 505.6,705.3 507.8,700.6 C510.0,695.9 512.1,692.1 514.3,689.7 C516.5,687.2 518.7,685.7 520.9,685.7 C523.1,685.7 525.3,687.2 527.4,689.7 C529.6,692.1 531.8,696.2 534.0,700.6 C536.2,705.0 538.4,710.4 540.5,715.9 C542.7,721.3 544.9,727.2 547.1,733.4 C549.3,739.6 551.5,746.8 553.7,753.0 C555.8,759.2 558.0,765.6 560.2,770.5 C562.4,775.4 564.6,779.4 566.8,782.5 C568.9,785.6 571.5,787.8 573.3,789.1 C575.1,790.3 575.9,790.5 577.7,790.2 C579.5,789.8 582.1,788.5 584.2,786.9 C586.4,785.3 588.6,782.9 590.8,780.3 C593.0,777.8 595.0,774.5 597.4,771.6 C599.7,768.7 603.3,764.9 605.0,762.9 C606.7,760.8 606.1,760.4 607.4,759.3 C608.7,758.2 611.3,757.0 613.0,756.3 C614.7,755.7 616.1,755.3 617.6,755.6 C619.2,755.8 620.6,756.4 622.3,757.8 C624.0,759.3 626.0,761.6 627.9,764.4 C629.8,767.2 631.6,770.6 633.5,774.6 C635.4,778.7 637.2,783.6 639.1,788.6 C641.0,793.6 642.8,799.0 644.7,804.5 C646.6,809.9 648.4,816.0 650.3,821.3 C652.2,826.6 654.0,831.5 655.9,836.2 C657.8,840.9 659.6,845.7 661.5,849.3 C663.4,852.8 665.2,855.7 667.1,857.6 C669.0,859.6 670.8,860.8 672.7,860.8 C674.6,860.8 676.5,859.6 678.3,857.6 C680.1,855.7 682.6,850.7 683.5,849.3" fill="none" stroke="#e2211f" stroke-width="3.1" stroke-linejoin="round" stroke-linecap="butt"/>
<line x1="90.0" y1="872.0" x2="90.0" y2="859.1" stroke="#474d50" stroke-width="1.65"/>
<line x1="144.0" y1="872.0" x2="144.0" y2="859.1" stroke="#474d50" stroke-width="1.65"/>
<line x1="198.0" y1="872.0" x2="198.0" y2="859.1" stroke="#474d50" stroke-width="1.65"/>
<line x1="252.0" y1="872.0" x2="252.0" y2="859.1" stroke="#474d50" stroke-width="1.65"/>
<line x1="306.0" y1="872.0" x2="306.0" y2="859.1" stroke="#474d50" stroke-width="1.65"/>
<line x1="360.0" y1="872.0" x2="360.0" y2="859.1" stroke="#474d50" stroke-width="1.65"/>
<line x1="414.0" y1="872.0" x2="414.0" y2="859.1" stroke="#474d50" stroke-width="1.65"/>
<line x1="468.0" y1="872.0" x2="468.0" y2="859.1" stroke="#474d50" stroke-width="1.65"/>
<line x1="522.0" y1="872.0" x2="522.0" y2="859.1" stroke="#474d50" stroke-width="1.65"/>
<line x1="576.0" y1="872.0" x2="576.0" y2="859.1" stroke="#474d50" stroke-width="1.65"/>
<line x1="630.0" y1="872.0" x2="630.0" y2="859.1" stroke="#474d50" stroke-width="1.65"/>
<line x1="36.0" y1="682.8" x2="48.5" y2="682.8" stroke="#474d50" stroke-width="1.65"/>
<line x1="36.0" y1="727.9" x2="48.5" y2="727.9" stroke="#474d50" stroke-width="1.65"/>
<line x1="36.0" y1="773.0" x2="48.5" y2="773.0" stroke="#474d50" stroke-width="1.65"/>
<line x1="36.0" y1="818.1" x2="48.5" y2="818.1" stroke="#474d50" stroke-width="1.65"/>
<line x1="36.0" y1="863.2" x2="48.5" y2="863.2" stroke="#474d50" stroke-width="1.65"/>
<rect x="36.0" y="674.0" width="647.7" height="198.0" fill="none" stroke="#32383a" stroke-width="1.75"/>
<text x="28.0" y="690.95" text-anchor="end" style="font-size:23.5px;" fill="#1c1c1c" stroke="#1c1c1c" stroke-width="0.35">1</text>
<text x="26.4" y="781.2" text-anchor="end" style="font-size:23.5px;" fill="#1c1c1c" stroke="#1c1c1c" stroke-width="0.35">0</text>
<text x="27.599999999999998" y="871.45" text-anchor="end" style="font-size:23.5px;" fill="#1c1c1c" stroke="#1c1c1c" stroke-width="0.35">−1</text>
<text x="35.7" y="899.4" text-anchor="middle" style="font-size:23.5px;" fill="#1c1c1c" stroke="#1c1c1c" stroke-width="0.35">0</text>
<text x="143.7" y="899.4" text-anchor="middle" style="font-size:23.5px;" fill="#1c1c1c" stroke="#1c1c1c" stroke-width="0.35">20</text>
<text x="251.7" y="899.4" text-anchor="middle" style="font-size:23.5px;" fill="#1c1c1c" stroke="#1c1c1c" stroke-width="0.35">40</text>
<text x="359.7" y="899.4" text-anchor="middle" style="font-size:23.5px;" fill="#1c1c1c" stroke="#1c1c1c" stroke-width="0.35">60</text>
<text x="467.7" y="899.4" text-anchor="middle" style="font-size:23.5px;" fill="#1c1c1c" stroke="#1c1c1c" stroke-width="0.35">80</text>
<text x="575.7" y="899.4" text-anchor="middle" style="font-size:23.5px;" fill="#1c1c1c" stroke="#1c1c1c" stroke-width="0.35">100</text>
<text x="684.3" y="899.4" text-anchor="end" style="font-size:23.5px;" fill="#1c1c1c" stroke="#1c1c1c" stroke-width="0.35">120</text>
<text x="684.8" y="926.5" text-anchor="end" textLength="27.6" lengthAdjust="spacingAndGlyphs" style="font-size:23.5px;font-style:italic;" fill="#1c1c1c" stroke="#1c1c1c" stroke-width="0.25">t, s</text>
<text x="0.5" y="638.6" style="font-size:28.5px;font-weight:bold;" fill="#1c1c1c">c</text>
<text x="37" y="653.6" textLength="15.5" lengthAdjust="spacingAndGlyphs" style="font-size:23.5px;font-style:italic;" fill="#1c1c1c" stroke="#1c1c1c" stroke-width="0.25">U</text>
<text x="52.5" y="653.6" style="font-size:23.5px;font-style:italic;" fill="#1c1c1c" stroke="#1c1c1c" stroke-width="0.25">,</text>
<text x="62.5" y="653.6" textLength="15" lengthAdjust="spacingAndGlyphs" style="font-size:23.5px;font-style:italic;" fill="#1c1c1c" stroke="#1c1c1c" stroke-width="0.25">Y</text>
<text x="75.8" y="659.6" style="font-size:11px;font-style:italic;" fill="#1c1c1c">s,</text>
<text x="89.3" y="653.6" textLength="15.5" lengthAdjust="spacingAndGlyphs" style="font-size:23.5px;font-style:italic;" fill="#1c1c1c" stroke="#1c1c1c" stroke-width="0.25">U</text>
<text x="104.6" y="653.8" style="font-size:23.5px;font-style:italic;" fill="#1c1c1c">*</text>
<text x="115" y="653.6" style="font-size:23.5px;font-style:italic;" fill="#1c1c1c" stroke="#1c1c1c" stroke-width="0.25">,</text>
<text x="125.6" y="653.6" textLength="31.8" lengthAdjust="spacingAndGlyphs" style="font-size:23.5px;font-style:italic;" fill="#1c1c1c" stroke="#1c1c1c" stroke-width="0.25">rel.</text>
<text x="161.5" y="653.6" textLength="49" lengthAdjust="spacingAndGlyphs" style="font-size:23.5px;font-style:italic;" fill="#1c1c1c" stroke="#1c1c1c" stroke-width="0.25">units</text>
</svg>
</body>
</html>
